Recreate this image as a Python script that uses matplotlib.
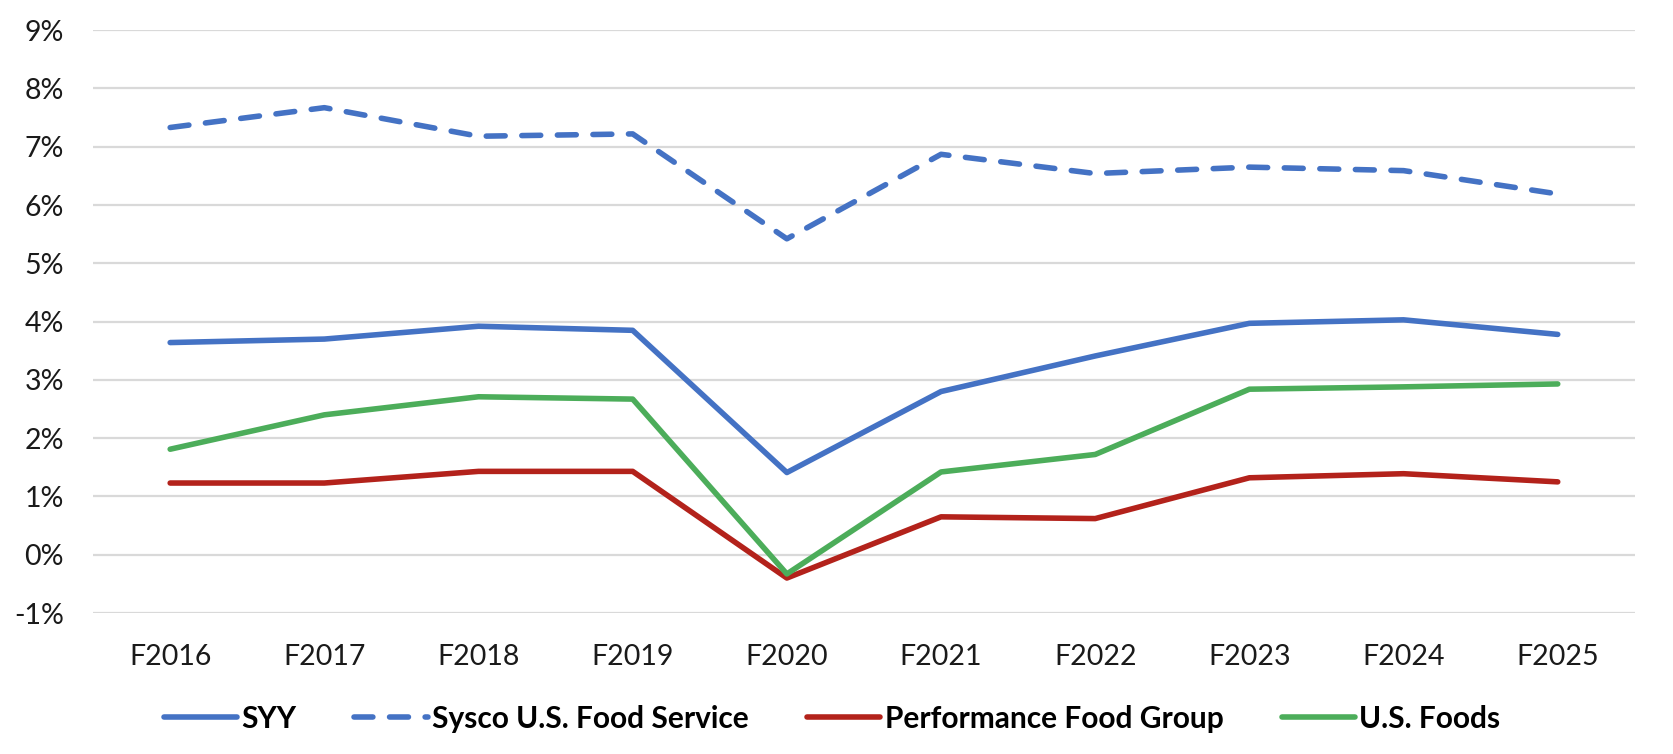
import matplotlib.pyplot as plt
from matplotlib.ticker import FuncFormatter

plt.rcParams['font.family'] = ['Lato', 'DejaVu Sans']

years = ['F2016', 'F2017', 'F2018', 'F2019', 'F2020',
         'F2021', 'F2022', 'F2023', 'F2024', 'F2025']

# operating margin, %
syy = [3.64, 3.70, 3.92, 3.85, 1.41, 2.80, 3.41, 3.97, 4.03, 3.78]
sysco_us = [7.33, 7.67, 7.18, 7.22, 5.42, 6.87, 6.54, 6.65, 6.59, 6.19]
pfg = [1.23, 1.23, 1.43, 1.43, -0.40, 0.65, 0.62, 1.32, 1.39, 1.25]
usf = [1.81, 2.40, 2.71, 2.67, -0.33, 1.42, 1.72, 2.84, 2.88, 2.93]

fig = plt.figure(figsize=(16.74, 7.54), dpi=100)
ax = fig.add_axes([0.0556, 0.187, 0.921, 0.773])

x = range(len(years))
lw = 4.0
ax.plot(x, syy, color='#4472C4', lw=lw, label='SYY', solid_capstyle='round')
ax.plot(x, sysco_us, color='#4472C4', lw=lw, label='Sysco U.S. Food Service',
        dashes=(3.4, 3.0), dash_capstyle='round')
ax.plot(x, pfg, color='#B3221B', lw=lw, label='Performance Food Group', solid_capstyle='round')
ax.plot(x, usf, color='#4CAD5A', lw=lw, label='U.S. Foods', solid_capstyle='round')

ax.set_xlim(-0.5, len(years) - 0.5)
ax.set_ylim(-1, 9)
ax.set_yticks(range(-1, 10))
ax.yaxis.set_major_formatter(FuncFormatter(lambda v, p: f'{v:.0f}%'))
ax.set_xticks(list(x))
ax.set_xticklabels(years)
ax.grid(axis='y', color='#D9D9D9', lw=1.6)
ax.set_axisbelow(True)
for s in ax.spines.values():
    s.set_visible(False)
ax.tick_params(length=0, labelsize=20.5, colors='#1a1a1a')
ax.tick_params(axis='y', pad=21)
ax.tick_params(axis='x', pad=22)

leg = fig.legend(loc='center', bbox_to_anchor=(0.497, 0.047), ncol=4, frameon=False,
                 handlelength=2.45, handletextpad=0.15, columnspacing=1.95,
                 prop={'weight': 'bold', 'size': 21.5})

fig.savefig('out.png', dpi=100)
